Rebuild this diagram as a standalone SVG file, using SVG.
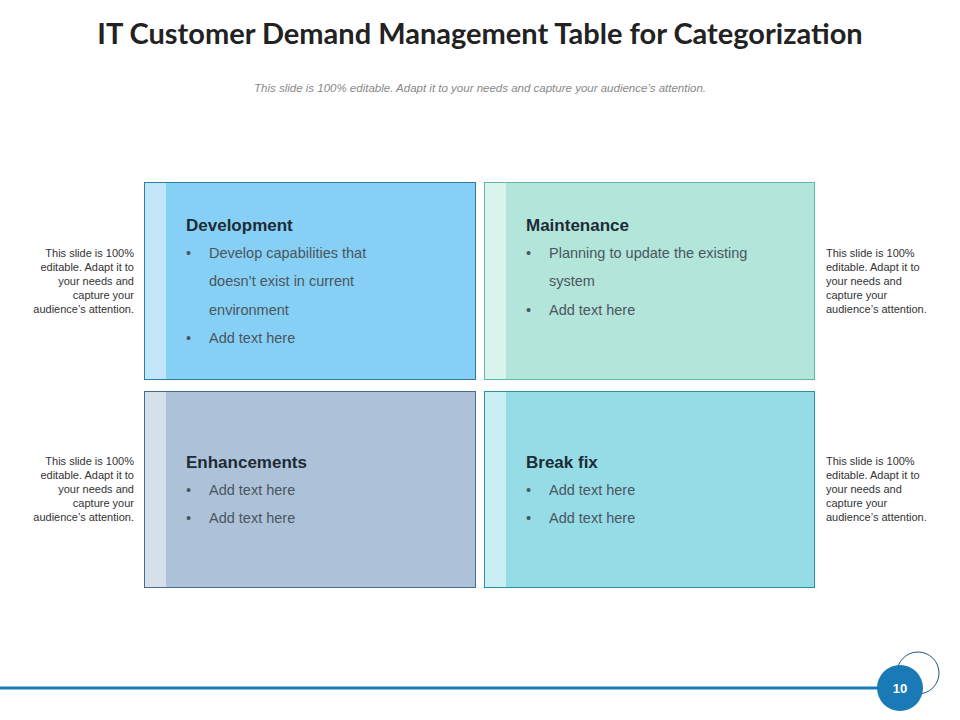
<svg xmlns="http://www.w3.org/2000/svg" width="960" height="720" viewBox="0 0 960 720">
<style>
.h{font-family:"Liberation Sans",Arial,sans-serif;font-weight:bold;font-size:17px;fill:#1d2b36}
.b{font-family:"Liberation Sans",Arial,sans-serif;font-size:14.5px;fill:#4a5560}
.s{font-family:"Liberation Sans",Arial,sans-serif;font-size:11px;fill:#333}
</style>
<rect width="960" height="720" fill="#fff"/>
<text x="480" y="44" text-anchor="middle" font-family="Lato,'Liberation Sans',sans-serif" font-weight="bold" font-size="29" fill="#222">IT Customer Demand Management Table for Categorization</text>
<text x="480" y="92" text-anchor="middle" font-family="'Liberation Sans',Arial,sans-serif" font-style="italic" font-size="11.5" fill="#888">This slide is 100% editable. Adapt it to your needs and capture your audience’s attention.</text>
<g id="development">
<rect x="144.5" y="182.5" width="331" height="197" fill="#87d0f5" stroke="#2a7fa6"/>
<rect x="145" y="183" width="21" height="196" fill="#c2e6f9"/>
<text class="h" x="186" y="231">Development</text>
<text class="b"><tspan x="186" y="258">•</tspan><tspan x="209" y="258">Develop capabilities that</tspan><tspan x="209" y="286">doesn’t exist in current</tspan><tspan x="209" y="315">environment</tspan><tspan x="186" y="343">•</tspan><tspan x="209" y="343">Add text here</tspan></text>
</g>
<g id="maintenance">
<rect x="484.5" y="182.5" width="330" height="197" fill="#b3e5da" stroke="#5fb8a3"/>
<rect x="485" y="183" width="21" height="196" fill="#daf3ed"/>
<text class="h" x="526" y="231">Maintenance</text>
<text class="b"><tspan x="526" y="258">•</tspan><tspan x="549" y="258">Planning to update the existing</tspan><tspan x="549" y="286">system</tspan><tspan x="526" y="315">•</tspan><tspan x="549" y="315">Add text here</tspan></text>
</g>
<g id="enhancements">
<rect x="144.5" y="391.5" width="331" height="196" fill="#adc2d8" stroke="#4a6c8f"/>
<rect x="145" y="392" width="21" height="195" fill="#d6e0eb"/>
<text class="h" x="186" y="468">Enhancements</text>
<text class="b"><tspan x="186" y="495">•</tspan><tspan x="209" y="495">Add text here</tspan><tspan x="186" y="523">•</tspan><tspan x="209" y="523">Add text here</tspan></text>
</g>
<g id="breakfix">
<rect x="484.5" y="391.5" width="330" height="196" fill="#96dce7" stroke="#2b8fa3"/>
<rect x="485" y="392" width="21" height="195" fill="#c9eef3"/>
<text class="h" x="526" y="468">Break fix</text>
<text class="b"><tspan x="526" y="495">•</tspan><tspan x="549" y="495">Add text here</tspan><tspan x="526" y="523">•</tspan><tspan x="549" y="523">Add text here</tspan></text>
</g>
<g id="notes">
<text class="s" text-anchor="end"><tspan x="134" y="257">This slide is 100%</tspan><tspan x="134" y="271">editable. Adapt it to</tspan><tspan x="134" y="285">your needs and</tspan><tspan x="134" y="299">capture your</tspan><tspan x="134" y="313">audience’s attention.</tspan></text>
<text class="s" text-anchor="end"><tspan x="134" y="465">This slide is 100%</tspan><tspan x="134" y="479">editable. Adapt it to</tspan><tspan x="134" y="493">your needs and</tspan><tspan x="134" y="507">capture your</tspan><tspan x="134" y="521">audience’s attention.</tspan></text>
<text class="s"><tspan x="826" y="257">This slide is 100%</tspan><tspan x="826" y="271">editable. Adapt it to</tspan><tspan x="826" y="285">your needs and</tspan><tspan x="826" y="299">capture your</tspan><tspan x="826" y="313">audience’s attention.</tspan></text>
<text class="s"><tspan x="826" y="465">This slide is 100%</tspan><tspan x="826" y="479">editable. Adapt it to</tspan><tspan x="826" y="493">your needs and</tspan><tspan x="826" y="507">capture your</tspan><tspan x="826" y="521">audience’s attention.</tspan></text>
</g>
<g id="connectors">
<line x1="0" y1="688" x2="880" y2="688" stroke="#1a7ab5" stroke-width="3"/>
</g>
<g id="page">
<circle cx="918" cy="673" r="21" fill="none" stroke="#1d5a7a" stroke-width="1"/>
<circle cx="900" cy="688" r="23" fill="#1a7ab5"/>
<text x="900" y="693" text-anchor="middle" font-family="'Liberation Sans',Arial,sans-serif" font-weight="bold" font-size="13" fill="#fff">10</text>
</g>
</svg>
